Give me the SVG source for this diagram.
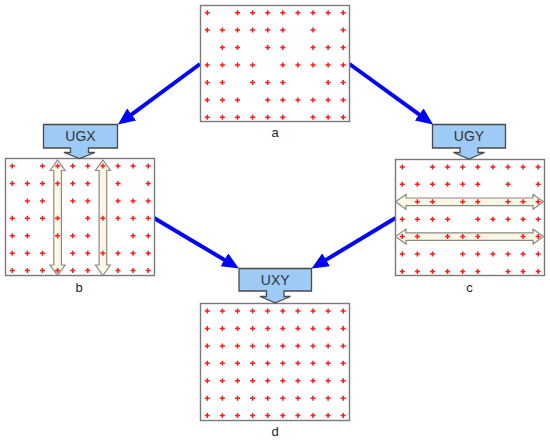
<svg xmlns="http://www.w3.org/2000/svg" xmlns:xlink="http://www.w3.org/1999/xlink" width="550" height="443" viewBox="0 0 550 443">
<style>
.box{fill:#fff;stroke:#7a7a7a;stroke-width:1.4}
.pl{fill:none;stroke:#ff1a1a;stroke-width:1.5}
.dbl{fill:#fbf8e6;stroke:#8a8a80;stroke-width:1.2}
.call{fill:#9ecbf6;stroke:#4a4a4a;stroke-width:1.3}
.ctext{font-family:"Liberation Sans",Arial,sans-serif;font-size:14px;fill:#333;text-anchor:middle}
.lbl{font-family:"Liberation Sans",Arial,sans-serif;font-size:13px;fill:#222;text-anchor:middle}
.conn{stroke:#0000ff;stroke-width:4;fill:none}
</style>
<defs>
<path id="p" class="pl" d="M-2.5,0H2.5M0,-2.5V2.5"/>
<marker id="ah" markerUnits="userSpaceOnUse" markerWidth="17" markerHeight="15" refX="7" refY="7.5" orient="auto" viewBox="0 0 17 15">
<path d="M0,0 L17,7.5 L0,15 Z" fill="#0000ff"/>
</marker>
<g id="sparse">
<use href="#p" x="7.3" y="7.7"/><use href="#p" x="37.5" y="7.7"/><use href="#p" x="52.6" y="7.7"/><use href="#p" x="67.7" y="7.7"/><use href="#p" x="82.8" y="7.7"/><use href="#p" x="97.9" y="7.7"/><use href="#p" x="113" y="7.7"/><use href="#p" x="128.1" y="7.7"/><use href="#p" x="143.2" y="7.7"/>
<use href="#p" x="7.3" y="25.1"/><use href="#p" x="22.4" y="25.1"/><use href="#p" x="37.5" y="25.1"/><use href="#p" x="52.6" y="25.1"/><use href="#p" x="67.7" y="25.1"/><use href="#p" x="82.8" y="25.1"/><use href="#p" x="113" y="25.1"/><use href="#p" x="143.2" y="25.1"/>
<use href="#p" x="22.4" y="42.6"/><use href="#p" x="37.5" y="42.6"/><use href="#p" x="67.7" y="42.6"/><use href="#p" x="82.8" y="42.6"/><use href="#p" x="113" y="42.6"/><use href="#p" x="128.1" y="42.6"/><use href="#p" x="143.2" y="42.6"/>
<use href="#p" x="7.3" y="60"/><use href="#p" x="22.4" y="60"/><use href="#p" x="37.5" y="60"/><use href="#p" x="52.6" y="60"/><use href="#p" x="82.8" y="60"/><use href="#p" x="97.9" y="60"/><use href="#p" x="113" y="60"/><use href="#p" x="128.1" y="60"/><use href="#p" x="143.2" y="60"/>
<use href="#p" x="7.3" y="77.4"/><use href="#p" x="22.4" y="77.4"/><use href="#p" x="52.6" y="77.4"/><use href="#p" x="67.7" y="77.4"/><use href="#p" x="82.8" y="77.4"/><use href="#p" x="128.1" y="77.4"/><use href="#p" x="143.2" y="77.4"/>
<use href="#p" x="7.3" y="94.9"/><use href="#p" x="22.4" y="94.9"/><use href="#p" x="37.5" y="94.9"/><use href="#p" x="67.7" y="94.9"/><use href="#p" x="82.8" y="94.9"/><use href="#p" x="97.9" y="94.9"/><use href="#p" x="113" y="94.9"/><use href="#p" x="128.1" y="94.9"/><use href="#p" x="143.2" y="94.9"/>
<use href="#p" x="7.3" y="112.3"/><use href="#p" x="22.4" y="112.3"/><use href="#p" x="37.5" y="112.3"/><use href="#p" x="52.6" y="112.3"/><use href="#p" x="67.7" y="112.3"/><use href="#p" x="82.8" y="112.3"/><use href="#p" x="113" y="112.3"/><use href="#p" x="128.1" y="112.3"/><use href="#p" x="143.2" y="112.3"/>
</g>
<g id="row">
<use href="#p" x="7.3" y="0"/><use href="#p" x="22.4" y="0"/><use href="#p" x="37.5" y="0"/><use href="#p" x="52.6" y="0"/><use href="#p" x="67.7" y="0"/><use href="#p" x="82.8" y="0"/><use href="#p" x="97.9" y="0"/><use href="#p" x="113" y="0"/><use href="#p" x="128.1" y="0"/><use href="#p" x="143.2" y="0"/>
</g>
<g id="full">
<use href="#row" y="7.7"/><use href="#row" y="25.1"/><use href="#row" y="42.6"/><use href="#row" y="60"/><use href="#row" y="77.4"/><use href="#row" y="94.9"/><use href="#row" y="112.3"/>
</g>
</defs>

<g id="connectors">
<line class="conn" x1="200" y1="64" x2="126" y2="118.6" marker-end="url(#ah)"/>
<line class="conn" x1="349.5" y1="64" x2="424.9" y2="118.6" marker-end="url(#ah)"/>
<line class="conn" x1="154" y1="218" x2="230.4" y2="263.4" marker-end="url(#ah)"/>
<line class="conn" x1="395.5" y1="218" x2="320.1" y2="263.4" marker-end="url(#ah)"/>
</g>

<g id="node-a">
<rect class="box" x="200.5" y="5.5" width="149" height="116"/>
<use href="#sparse" transform="translate(200,5)"/>
<text class="lbl" x="275" y="137">a</text>
</g>

<g id="node-b">
<rect class="box" x="5.5" y="158.5" width="149" height="117"/>
<path class="dbl" d="M57.6,160 L65.1,170.5 L61.4,170.5 L61.4,265 L65.1,265 L57.6,275.5 L50.1,265 L53.8,265 L53.8,170.5 L50.1,170.5 Z"/>
<path class="dbl" d="M102.9,160 L110.4,170.5 L106.7,170.5 L106.7,265 L110.4,265 L102.9,275.5 L95.4,265 L99.1,265 L99.1,170.5 L95.4,170.5 Z"/>
<use href="#sparse" transform="translate(5,158.3)"/>
<text class="lbl" x="79" y="292">b</text>
</g>

<g id="node-c">
<rect class="box" x="395.5" y="159.5" width="149" height="116"/>
<path class="dbl" d="M395.5,201.8 L406,194.3 L406,198 L533,198 L533,194.3 L543.5,201.8 L533,209.3 L533,205.6 L406,205.6 L406,209.3 Z"/>
<path class="dbl" d="M395.5,236.6 L406,229.1 L406,232.8 L533,232.8 L533,229.1 L543.5,236.6 L533,244.1 L533,240.4 L406,240.4 L406,244.1 Z"/>
<use href="#sparse" transform="translate(395,159.2)"/>
<text class="lbl" x="469.5" y="292">c</text>
</g>

<g id="node-d">
<rect class="box" x="200.5" y="303.5" width="149" height="117"/>
<use href="#full" transform="translate(200,303.3)"/>
<text class="lbl" x="275" y="436">d</text>
</g>

<g id="node-ugx">
<path class="call" d="M43.5,124.5 H117.5 V148 H88.5 V152.5 H95 L79.5,158.5 L64,152.5 H70.5 V148 H43.5 Z"/>
<text class="ctext" x="80.5" y="141">UGX</text>
</g>

<g id="node-ugy">
<path class="call" d="M432.5,124.5 H505.5 V148 H478 V152.5 H484.5 L469,159 L453.5,152.5 H460 V148 H432.5 Z"/>
<text class="ctext" x="469" y="141">UGY</text>
</g>

<g id="node-uxy">
<path class="call" d="M239,268.5 H311.5 V291 H284 V296.5 H290.5 L275.2,302.8 L260,296.5 H266.5 V291 H239 Z"/>
<text class="ctext" x="275.2" y="285">UXY</text>
</g>
</svg>
